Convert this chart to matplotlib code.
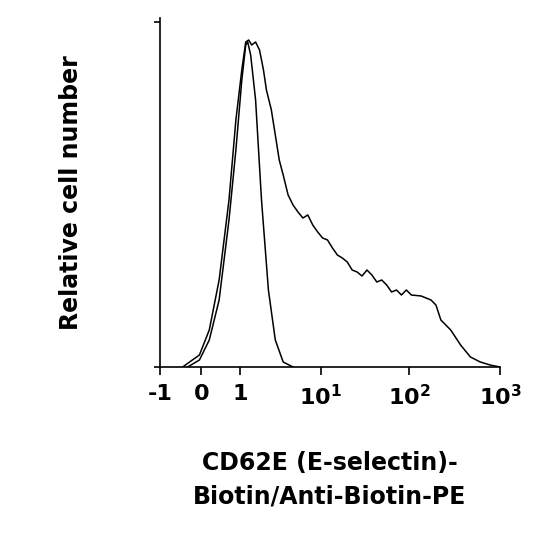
import matplotlib
matplotlib.use("Agg")
import matplotlib.pyplot as plt

# x in axis display units (channel position), y in relative counts
tick_pos = [-5, 37, 76, 158, 248, 340]
tick_labels = ["-1", "0", "1", "$\\mathbf{10^1}$", "$\\mathbf{10^2}$", "$\\mathbf{10^3}$"]

sample_x = [18,25,35,45,55,65,72,78,82,85,88,92,96,100,103,108,112,116,120,125,130,135,140,145,150,155,160,165,170,175,180,185,190,195,200,205,210,215,220,225,230,235,240,245,250,260,270,275,280,290,300,310,320,330,340]
sample_y = [0,5,12,37,87,167,247,297,325,327,322,325,317,297,277,257,232,207,192,172,162,155,149,152,142,135,129,127,119,112,109,105,97,95,91,97,92,85,87,82,75,77,72,77,72,71,67,62,47,37,22,10,5,2,0]
iso_x = [23,35,45,55,65,72,78,82,84,87,92,98,105,112,120,130]
iso_y = [0,7,27,67,147,217,287,322,325,312,267,167,77,27,5,0]

fig = plt.figure(figsize=(5.4, 5.4), dpi=100)
ax = fig.add_axes([160/540, 1-367/540, 340/540, 349/540])
ax.plot(sample_x, sample_y, color="black", lw=1.1)
ax.plot(iso_x, iso_y, color="black", lw=1.1)
ax.set_xlim(0, 340)
ax.set_ylim(0, 349)
ax.set_xticks(tick_pos)
ax.set_xticklabels(tick_labels, fontsize=16, fontweight="bold")
ax.set_yticks([0, 345])
ax.set_yticklabels([])
ax.tick_params(axis="x", length=6, width=1.2, pad=6)
ax.tick_params(axis="y", length=4, width=1.2)
for s in ["top", "right"]:
    ax.spines[s].set_visible(False)
for s in ["left", "bottom"]:
    ax.spines[s].set_linewidth(1.2)
ax.spines["bottom"].set_bounds(-5, 340)
ax.set_ylabel("Relative cell number", fontsize=17, fontweight="bold", labelpad=48)
ax.set_xlabel("CD62E (E-selectin)-\nBiotin/Anti-Biotin-PE", fontsize=17, fontweight="bold", labelpad=30, linespacing=1.5)
fig.savefig("out.png", dpi=100)
